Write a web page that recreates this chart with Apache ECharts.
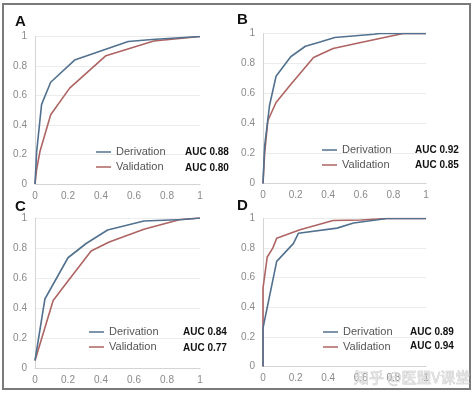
<!DOCTYPE html>
<html>
<head>
<meta charset="utf-8">
<script src="https://cdn.jsdelivr.net/npm/echarts@6/dist/echarts.min.js"></script>
<style>
html,body{margin:0;padding:0;background:#fff;}
#chart{width:474px;height:395px;}
</style>
</head>
<body>
<div id="chart"></div>
<script>
// ---- data ----
const ticks = [0, 0.2, 0.4, 0.6, 0.8, 1];
const seriesNames = ['Derivation', 'Validation'];
const panelLabels = ['A', 'B', 'C', 'D'];
const aucDerivation = ['AUC 0.88', 'AUC 0.92', 'AUC 0.84', 'AUC 0.89'];
const aucValidation = ['AUC 0.80', 'AUC 0.85', 'AUC 0.77', 'AUC 0.94'];

const aDerivation = [[0,0],[0.01,0.22],[0.04,0.54],[0.095,0.69],[0.24,0.84],[0.565,0.966],[0.71,0.98],[1,1]];
const aValidation = [[0,0],[0.01,0.1],[0.03,0.22],[0.095,0.47],[0.21,0.65],[0.43,0.87],[0.72,0.97],[1,1]];
const bDerivation = [[0,0],[0.01,0.25],[0.04,0.52],[0.08,0.715],[0.17,0.845],[0.26,0.915],[0.34,0.94],[0.44,0.973],[0.68,0.995],[0.72,1],[1,1]];
const bValidation = [[0,0],[0.01,0.2],[0.03,0.42],[0.08,0.54],[0.17,0.66],[0.31,0.84],[0.43,0.9],[0.6,0.94],[0.86,1],[1,1]];
const cDerivation = [[0,0.05],[0.06,0.46],[0.2,0.735],[0.31,0.83],[0.44,0.92],[0.66,0.98],[0.9,0.99],[1,1]];
const cValidation = [[0,0.05],[0.11,0.45],[0.2,0.58],[0.34,0.78],[0.45,0.84],[0.66,0.925],[0.88,0.99],[1,1]];
const dDerivation = [[0,0],[0,0.26],[0.084,0.71],[0.186,0.83],[0.217,0.9],[0.454,0.935],[0.556,0.97],[0.76,1],[1,1]];
const dValidation = [[0,0],[0,0.53],[0.026,0.74],[0.06,0.8],[0.084,0.867],[0.227,0.924],[0.43,0.986],[0.6,0.99],[0.76,1],[1,1]];

const derivationSets = [aDerivation, bDerivation, cDerivation, dDerivation];
const validationSets = [aValidation, bValidation, cValidation, dValidation];

// ---- layout / style ----
const colDeriv = '#52718f';
const colValid = '#ad6462';
const grids = [
  {left: 35, top: 36.5, width: 165, height: 147.5},
  {left: 263, top: 33.5, width: 163, height: 150},
  {left: 35, top: 218, width: 165, height: 150},
  {left: 263, top: 218.5, width: 163, height: 148}
];
const legendPos = [
  {left: 96, top: 145.5},
  {left: 322, top: 143.5},
  {left: 89, top: 325.5},
  {left: 323, top: 325.5}
];
const aucPos = [
  {x: 185, y1: 152.5, y2: 168},
  {x: 415, y1: 150, y2: 165},
  {x: 183, y1: 332, y2: 348},
  {x: 410, y1: 332, y2: 346}
];
const letterPos = [[15, 22], [237, 20], [15, 207], [237, 206]];

const chart = echarts.init(document.getElementById('chart'), null, {renderer: 'canvas'});
const fmt = v => { const t = ticks.find(x => Math.abs(x - v) < 1e-9); return t === undefined ? '' : String(t); };

const xAxis = [], yAxis = [], series = [], legend = [], graphic = [];
grids.forEach((g, i) => {
  xAxis.push({
    type: 'value', gridIndex: i, min: 0, max: 1, interval: 0.2,
    axisLine: {show: true, lineStyle: {color: '#d4d4d4', width: 1}},
    axisTick: {show: false}, splitLine: {show: false},
    axisLabel: {color: '#8a8a8a', fontSize: 10, margin: 7, fontFamily: 'Liberation Sans, Arial', formatter: fmt}
  });
  yAxis.push({
    type: 'value', gridIndex: i, min: 0, max: 1, interval: 0.2,
    axisLine: {show: true, lineStyle: {color: '#d4d4d4', width: 1}},
    axisTick: {show: false},
    splitLine: {show: true, lineStyle: {color: '#ececec', width: 1}},
    axisLabel: {color: '#8a8a8a', fontSize: 10, margin: 8, fontFamily: 'Liberation Sans, Arial', formatter: fmt}
  });
  series.push({
    name: seriesNames[0], type: 'line', xAxisIndex: i, yAxisIndex: i,
    data: derivationSets[i], showSymbol: false, symbol: 'none', smooth: false,
    lineStyle: {color: colDeriv, width: 1.6}, itemStyle: {color: colDeriv},
    animation: false, z: 3
  });
  series.push({
    name: seriesNames[1], type: 'line', xAxisIndex: i, yAxisIndex: i,
    data: validationSets[i], showSymbol: false, symbol: 'none', smooth: false,
    lineStyle: {color: colValid, width: 1.6}, itemStyle: {color: colValid},
    animation: false, z: 2
  });
  legend.push({
    data: seriesNames, left: legendPos[i].left, top: legendPos[i].top,
    orient: 'vertical', icon: 'rect', itemWidth: 15, itemHeight: 1.5,
    itemGap: 2, itemTextGap: 2, selectedMode: false, padding: 0,
    textStyle: {color: '#555', fontSize: 11, lineHeight: 13, fontFamily: 'Liberation Sans, Arial'}
  });
  graphic.push({
    type: 'text', left: letterPos[i][0], top: letterPos[i][1] - 8, z: 100,
    style: {text: panelLabels[i], font: 'bold 15px "Liberation Sans", Arial', fill: '#111'}
  });
  graphic.push({
    type: 'text', x: aucPos[i].x, y: aucPos[i].y1, z: 100,
    style: {text: aucDerivation[i], font: 'bold 10px "Liberation Sans", Arial', fill: '#111', verticalAlign: 'middle'}
  });
  graphic.push({
    type: 'text', x: aucPos[i].x, y: aucPos[i].y2, z: 100,
    style: {text: aucValidation[i], font: 'bold 10px "Liberation Sans", Arial', fill: '#111', verticalAlign: 'middle'}
  });
});

graphic.push({
  type: 'rect', shape: {x: 3, y: 4, width: 467, height: 385}, z: 100,
  style: {fill: 'none', stroke: '#7a7a7a', lineWidth: 2}
});
graphic.push({
  type: 'text', x: 354, y: 377, z: 100,
  style: {text: '知乎 @医盟V课堂', font: '15px "Noto Sans CJK SC"', fill: 'rgba(225,225,225,0.85)',
          stroke: 'rgba(160,160,160,0.6)', lineWidth: 0.6, verticalAlign: 'middle'}
});

chart.setOption({
  backgroundColor: '#ffffff',
  animation: false,
  grid: grids.map(g => Object.assign({containLabel: false}, g)),
  xAxis, yAxis, series, legend, graphic
});
</script>
</body>
</html>
